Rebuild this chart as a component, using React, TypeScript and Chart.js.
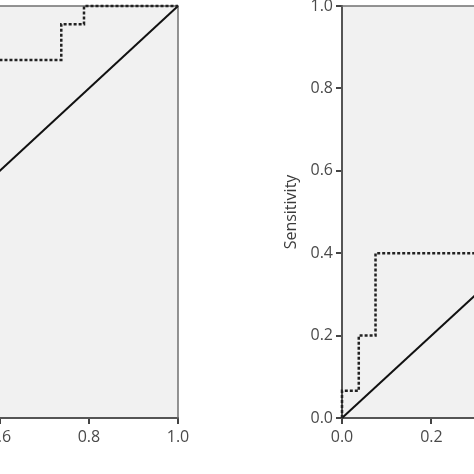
import React, { useEffect, useRef } from "react";
import { Chart, registerables } from "chart.js";

Chart.register(...registerables);

// Axis ticks (both axes, both panels)
const tickValues = [0, 0.2, 0.4, 0.6, 0.8, 1.0];

// Reference diagonal
const diagonalX = [0, 1];
const diagonalY = [0, 1];

// Left panel ROC curve (1 - specificity, sensitivity)
const leftRocX = [0, 0, 0.05, 0.05, 0.2, 0.2, 0.738, 0.738, 0.789, 0.789, 1];
const leftRocY = [0, 0.3, 0.3, 0.6, 0.6, 0.869, 0.869, 0.956, 0.956, 1, 1];

// Right panel ROC curve
const rightRocX = [0, 0, 0.0375, 0.0375, 0.075, 0.075, 0.42, 0.42, 0.6, 0.6, 1];
const rightRocY = [0, 0.066, 0.066, 0.2, 0.2, 0.4, 0.4, 0.7, 0.7, 1, 1];

const yAxisTitle = "Sensitivity";

const FONT = "'Open Sans', 'DejaVu Sans', sans-serif";

const toPoints = (xs: number[], ys: number[]) => xs.map((x, i) => ({ x, y: ys[i] }));

const framePlugin = {
  id: "frame",
  beforeDraw(chart: any) {
    const { ctx, chartArea } = chart;
    ctx.save();
    ctx.fillStyle = "#f1f1f1";
    ctx.fillRect(chartArea.left, chartArea.top, chartArea.right - chartArea.left, chartArea.bottom - chartArea.top);
    ctx.restore();
  },
  beforeDatasetsDraw(chart: any) {
    const { ctx, chartArea } = chart;
    ctx.save();
    ctx.strokeStyle = "#707070";
    ctx.lineWidth = 1.5;
    ctx.beginPath();
    ctx.moveTo(chartArea.left, chartArea.top);
    ctx.lineTo(chartArea.right, chartArea.top);
    ctx.lineTo(chartArea.right, chartArea.bottom);
    ctx.stroke();
    ctx.restore();
  },
};

type PanelProps = {
  left: number;
  width: number;
  padLeft: number;
  padRight: number;
  showY: boolean;
  rocX: number[];
  rocY: number[];
};

function RocPanel({ left, width, padLeft, padRight, showY, rocX, rocY }: PanelProps) {
  const ref = useRef<HTMLCanvasElement>(null);
  useEffect(() => {
    if (!ref.current) return;
    const tickFont = { family: FONT, size: 16 };
    const chart = new Chart(ref.current, {
      type: "line",
      data: {
        datasets: [
          {
            data: toPoints(rocX, rocY),
            borderColor: "#222",
            borderWidth: 2.5,
            borderDash: [3, 2],
            pointRadius: 0,
            tension: 0,
            fill: false,
            clip: false as any,
          },
          {
            data: toPoints(diagonalX, diagonalY),
            borderColor: "#111",
            borderWidth: 2,
            pointRadius: 0,
            tension: 0,
            fill: false,
            clip: false as any,
          },
        ],
      },
      options: {
        animation: false,
        responsive: false,
        events: [],
        layout: { padding: { left: padLeft, right: padRight, top: 6, bottom: 0 } },
        plugins: { legend: { display: false }, tooltip: { enabled: false } },
        scales: {
          x: {
            type: "linear",
            min: 0,
            max: 1,
            afterBuildTicks: (s: any) => {
              s.ticks = tickValues.map((v) => ({ value: v }));
            },
            ticks: {
              callback: (v: any) => Number(v).toFixed(1),
              autoSkip: false,
              maxRotation: 0,
              font: tickFont,
              color: "#4a4a4a",
              padding: 4,
            },
            grid: { drawOnChartArea: false, drawTicks: true, tickLength: 6, color: "#444", lineWidth: 2 },
            border: { display: true, color: "#555", width: 2 },
            afterFit: (s: any) => {
              s.height = 56;
              s.paddingLeft = 0;
              s.paddingRight = 0;
            },
          },
          y: {
            type: "linear",
            display: showY,
            min: 0,
            max: 1,
            afterBuildTicks: (s: any) => {
              s.ticks = tickValues.map((v) => ({ value: v }));
            },
            ticks: {
              callback: (v: any) => Number(v).toFixed(1),
              autoSkip: false,
              font: tickFont,
              color: "#4a4a4a",
              padding: 3,
            },
            grid: { drawOnChartArea: false, drawTicks: true, tickLength: 6, color: "#444", lineWidth: 2 },
            border: { display: true, color: "#555", width: 2 },
            title: {
              display: showY,
              text: yAxisTitle,
              font: { family: FONT, size: 16 },
              color: "#3a3a3a",
              padding: { top: 19.4, bottom: 0 },
            },
            afterFit: (s: any) => {
              s.width = showY ? 80 : 0;
              s.paddingTop = 0;
              s.paddingBottom = 0;
            },
          },
        },
      },
      plugins: [framePlugin],
    });
    return () => chart.destroy();
  }, []);
  return (
    <canvas
      ref={ref}
      width={width}
      height={474}
      style={{ position: "absolute", left, top: 0, width, height: 474 }}
    />
  );
}

export default function App() {
  return (
    <div
      style={{
        position: "fixed",
        left: 0,
        top: 0,
        width: 474,
        height: 474,
        overflow: "hidden",
        background: "#ffffff",
      }}
    >
      <RocPanel left={-300} width={498} padLeft={32.5} padRight={20} showY={false} rocX={leftRocX} rocY={leftRocY} />
      <RocPanel left={262} width={560} padLeft={0} padRight={33} showY={true} rocX={rightRocX} rocY={rightRocY} />
    </div>
  );
}
